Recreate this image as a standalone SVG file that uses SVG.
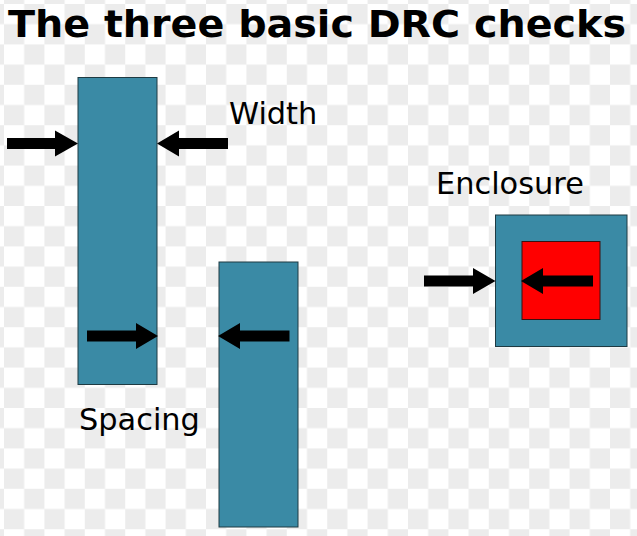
<svg xmlns="http://www.w3.org/2000/svg" width="637" height="536" viewBox="0 0 637 536">
  <defs>
    <pattern id="checker" patternUnits="userSpaceOnUse" x="4" y="4" width="40.4" height="40.4">
      <rect x="0" y="0" width="40.4" height="40.4" fill="#ffffff"/>
      <rect x="20.2" y="0" width="20.2" height="20.2" fill="#ececec"/>
      <rect x="0" y="20.2" width="20.2" height="20.2" fill="#ececec"/>
    </pattern>
  </defs>
  <style>
    .layer { fill: #3a8aa5; stroke: #1e3a42; stroke-width: 1; }
    .inner { fill: #ff0000; stroke: #3a1010; stroke-width: 1; }
    .arrow { fill: #000000; stroke: none; }
    .label { font-family: "DejaVu Sans", sans-serif; font-size: 30.4px; fill: #000000; }
    .title { font-family: "DejaVu Sans", sans-serif; font-size: 38px; font-weight: bold; fill: #000000; }
  </style>
  <rect x="0" y="0" width="637" height="536" fill="url(#checker)"/>
  <text class="title" x="8" y="37" textLength="618" lengthAdjust="spacingAndGlyphs">The three basic DRC checks</text>
  <g id="wire-a">
    <rect class="layer" x="78" y="77.5" width="79" height="307"/>
  </g>
  <g id="wire-b">
    <rect class="layer" x="219" y="262" width="79" height="265"/>
  </g>
  <g id="enclosure-outer">
    <rect class="layer" x="495.5" y="215" width="131.5" height="131.5"/>
  </g>
  <g id="enclosure-inner">
    <rect class="inner" x="522" y="241.5" width="78" height="78"/>
  </g>
  <g id="label-width"><text class="label" x="229" y="123.5">Width</text></g>
  <g id="label-spacing"><text class="label" x="79" y="429.5">Spacing</text></g>
  <g id="label-enclosure"><text class="label" x="436" y="194.3">Enclosure</text></g>
  <g id="connectors">
    <polygon class="arrow" points="7,138 55,138 55,130.5 78,143.5 55,156.5 55,149 7,149"/>
    <polygon class="arrow" points="228,138 179,138 179,130.5 157,143.5 179,156.5 179,149 228,149"/>
    <polygon class="arrow" points="87,330.5 136,330.5 136,323 158,336 136,349 136,341.5 87,341.5"/>
    <polygon class="arrow" points="289.5,330.5 240,330.5 240,323 218,336 240,349 240,341.5 289.5,341.5"/>
    <polygon class="arrow" points="424,275.5 473,275.5 473,268 495.5,281 473,294 473,286.5 424,286.5"/>
    <polygon class="arrow" points="593,275.5 543,275.5 543,268 521,281 543,294 543,286.5 593,286.5"/>
  </g>
</svg>
